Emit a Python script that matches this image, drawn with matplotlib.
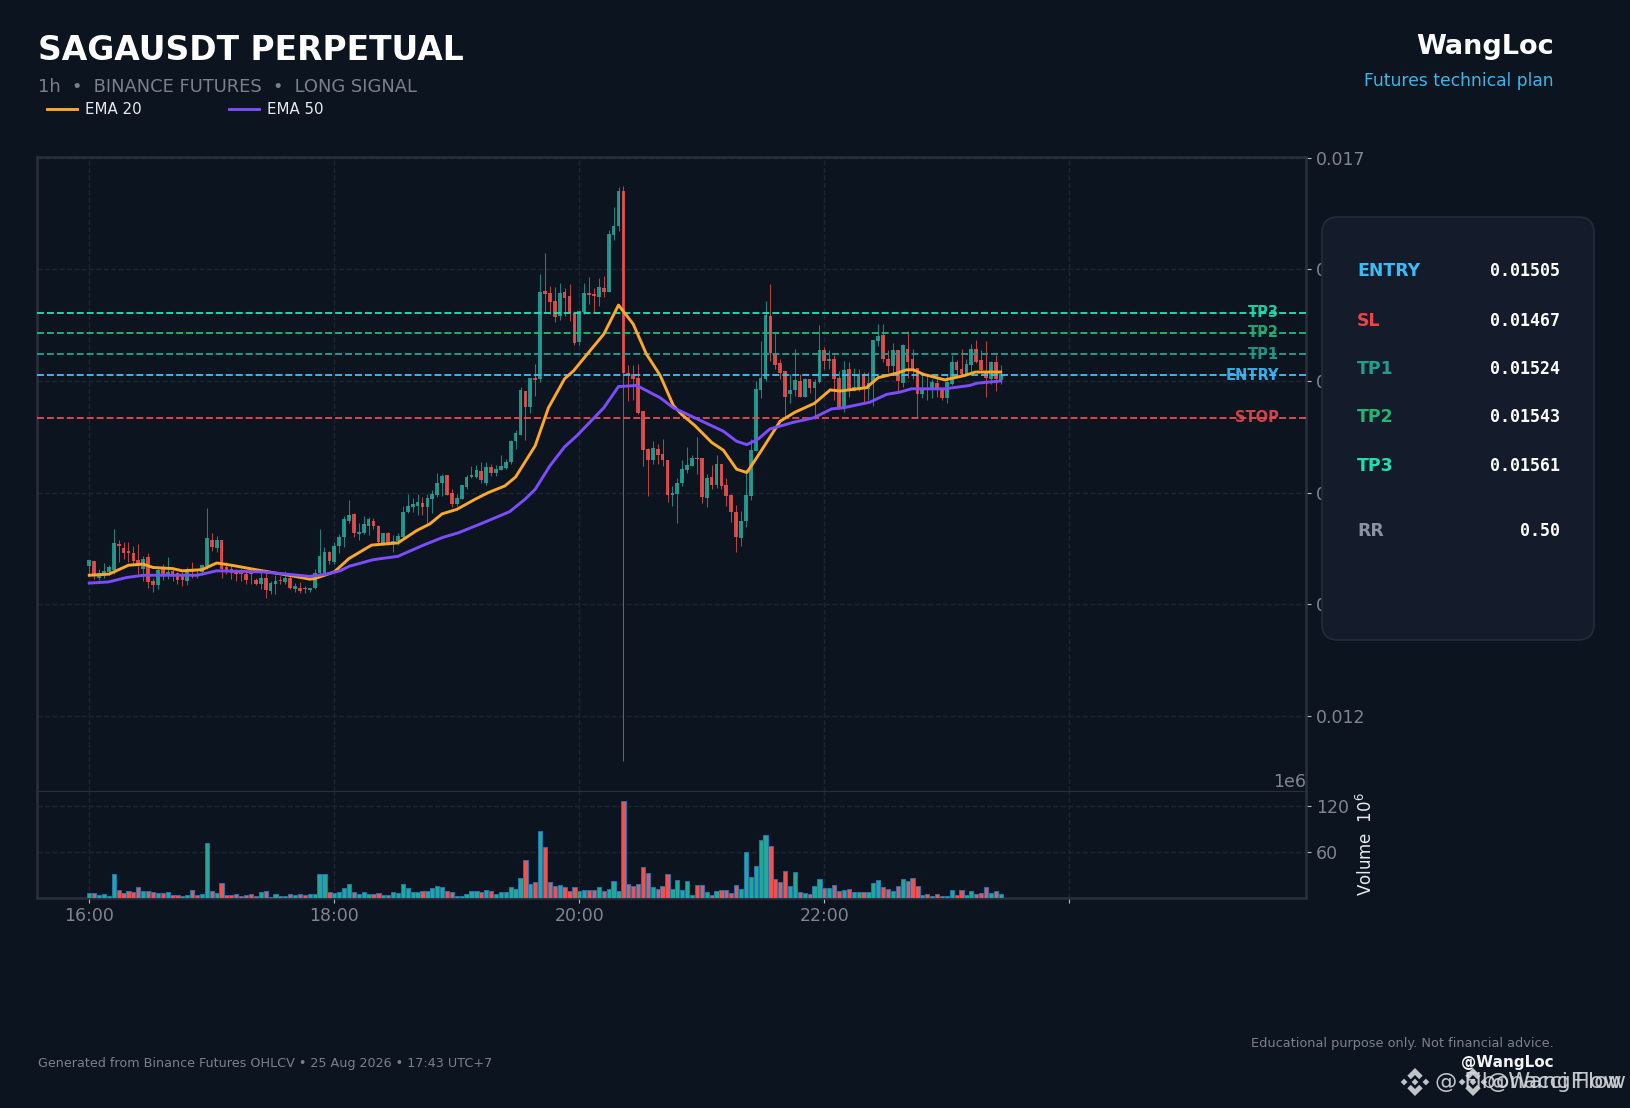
import numpy as np
import matplotlib
matplotlib.use("Agg")
import matplotlib.pyplot as plt
from matplotlib.patches import FancyBboxPatch, Polygon
from matplotlib.ticker import ScalarFormatter, FormatStrFormatter

# ---------- data (prices in 1e-5 USDT, volume in millions) ----------
PRICE_UNIT = 1e-5
direction = ("GRGGGGRRRR" "RGRRGRGRRR" "GRRGGRGRRR" "RRRRRGRGGR" "GRGRRGGGGR"
             "GGGGRGGGRR" "GRGGGGGGRG" "GGGRRGGGGG" "RGRGGGGGGR" "GRGRRRGRRR"
             "GGRRGRGGGR" "RRRRRGRRRG" "GGGGRRGRGR" "RRRGGGGGGR" "RRRGGRGRGG"
             "RGRRGRGGRG" "GGRRGRGRRR" "GRGRRGGRRG" "GRRRGRG")
body_top = [1340,1339,1328,1330,1333,1355,1354,1350,1348,1346,
            1340,1341,1342,1321,1331,1332,1329,1330,1328,1326,
            1329,1331,1332,1335,1359,1358,1358,1358,1333,1332,
            1329,1328,1327,1328,1322,1324,1324,1319,1321,1322,
            1324,1324,1316,1315,1315,1315,1328,1343,1347,1347,
            1352,1360,1376,1380,1381,1365,1372,1376,1375,1370,
            1364,1364,1357,1361,1383,1388,1390,1392,1391,1395,
            1399,1409,1415,1416,1400,1395,1407,1414,1416,1420,
            1419,1423,1423,1421,1424,1427,1446,1453,1492,1491,
            1503,1503,1580,1581,1579,1572,1579,1580,1576,1561,
            1563,1579,1579,1578,1584,1583,1632,1639,1670,1670,
            1507,1506,1503,1473,1439,1440,1439,1435,1429,1400,
            1409,1421,1425,1431,1431,1431,1413,1414,1426,1426,
            1407,1398,1383,1375,1398,1438,1493,1503,1559,1558,
            1525,1516,1509,1492,1501,1500,1502,1502,1499,1528,
            1528,1520,1520,1503,1510,1511,1495,1506,1506,1498,
            1537,1540,1541,1520,1528,1528,1532,1529,1520,1512,
            1492,1493,1499,1498,1492,1499,1517,1517,1511,1515,
            1529,1529,1519,1509,1517,1517,1506]
body_bottom = [1334,1326,1324,1326,1329,1331,1352,1346,1346,1339,
               1335,1332,1320,1317,1317,1327,1327,1327,1322,1322,
               1321,1329,1330,1329,1334,1351,1350,1332,1331,1328,
               1327,1327,1322,1327,1318,1318,1313,1312,1318,1321,
               1320,1315,1314,1312,1314,1313,1315,1328,1328,1339,
               1338,1352,1360,1375,1364,1363,1364,1370,1370,1356,
               1355,1355,1355,1357,1360,1383,1387,1388,1387,1387,
               1394,1398,1409,1398,1390,1390,1394,1405,1414,1414,
               1411,1409,1418,1418,1420,1422,1427,1446,1452,1477,
               1477,1501,1502,1578,1571,1557,1558,1574,1561,1534,
               1535,1562,1577,1576,1575,1580,1580,1631,1639,1507,
               1506,1502,1471,1438,1429,1429,1434,1429,1398,1398,
               1399,1409,1420,1424,1430,1396,1395,1407,1407,1406,
               1397,1383,1360,1359,1375,1397,1437,1492,1502,1525,
               1514,1507,1486,1488,1492,1486,1486,1494,1494,1499,
               1518,1518,1502,1476,1477,1492,1491,1493,1493,1493,
               1498,1536,1520,1513,1513,1500,1498,1517,1511,1488,
               1488,1492,1492,1492,1485,1485,1497,1510,1506,1506,
               1514,1517,1510,1503,1502,1502,1501]
highs = [1340,1339,1332,1337,1335,1367,1358,1356,1356,1352,
         1354,1343,1346,1324,1334,1336,1342,1332,1329,1329,
         1333,1338,1332,1335,1386,1364,1361,1358,1338,1335,
         1332,1332,1331,1332,1324,1329,1329,1321,1326,1325,
         1330,1328,1319,1320,1316,1315,1332,1367,1351,1348,
         1356,1363,1379,1393,1382,1373,1379,1378,1377,1371,
         1364,1365,1362,1364,1388,1399,1395,1399,1396,1399,
         1402,1418,1417,1416,1403,1399,1407,1416,1424,1425,
         1427,1427,1426,1425,1434,1430,1447,1456,1495,1491,
         1503,1515,1596,1615,1585,1584,1588,1583,1587,1563,
         1563,1588,1593,1583,1592,1594,1635,1656,1674,1675,
         1514,1514,1515,1473,1440,1446,1444,1448,1429,1406,
         1413,1429,1441,1434,1450,1431,1417,1425,1434,1426,
         1413,1399,1389,1384,1421,1448,1500,1536,1572,1587,
         1543,1520,1509,1506,1529,1506,1503,1502,1502,1550,
         1530,1528,1523,1509,1518,1517,1512,1511,1508,1508,
         1537,1551,1551,1528,1534,1528,1533,1545,1529,1512,
         1506,1505,1502,1505,1493,1506,1523,1519,1529,1520,
         1533,1537,1528,1536,1518,1523,1514]
lows = [1326,1323,1322,1324,1326,1327,1338,1341,1338,1335,
        1327,1321,1315,1311,1314,1322,1323,1321,1318,1316,
        1317,1324,1324,1326,1332,1348,1347,1324,1327,1323,
        1321,1321,1318,1318,1317,1314,1306,1309,1309,1318,
        1318,1314,1311,1310,1310,1311,1314,1327,1327,1336,
        1336,1346,1351,1373,1360,1358,1363,1362,1367,1355,
        1353,1353,1347,1353,1359,1382,1383,1380,1380,1373,
        1382,1396,1397,1398,1387,1388,1394,1403,1413,1413,
        1409,1407,1415,1415,1420,1421,1426,1439,1452,1447,
        1471,1487,1499,1561,1560,1553,1555,1558,1554,1532,
        1532,1560,1569,1562,1567,1575,1580,1626,1634,1160,
        1482,1483,1470,1424,1397,1426,1426,1424,1392,1388,
        1373,1406,1418,1424,1417,1391,1387,1403,1404,1403,
        1388,1374,1347,1352,1369,1393,1437,1485,1500,1518,
        1511,1502,1467,1480,1487,1486,1486,1489,1466,1498,
        1511,1511,1483,1475,1472,1486,1491,1491,1480,1483,
        1478,1531,1517,1508,1505,1491,1495,1503,1502,1467,
        1485,1483,1485,1486,1483,1480,1496,1506,1505,1505,
        1508,1516,1509,1486,1497,1491,1497]
volume_m = [6.5,6.5,3.9,5.2,2.6,31.3,10.4,6.5,9.1,7.4,
            14.3,9.1,9.1,7.8,6.5,6.5,7.8,3.9,3.9,2.6,
            3.9,10.4,3.9,5.2,71.7,9.1,6.5,19.6,3.9,3.9,
            5.2,2.6,3.9,5.2,2.6,7.8,9.1,1.3,5.2,2.6,
            2.6,5.2,3.9,5.2,3.9,5.2,5.2,31.3,31.3,7.8,
            6.5,7.8,13,18.3,7.8,5.2,7.8,5.2,5.2,6.5,
            3.9,3.9,7.8,6.5,18.3,13,7.8,7.8,9.1,9.1,
            13,15.7,14.3,9.1,7.8,2.6,2.6,5.2,9.1,9.1,
            7.8,10.4,9.1,5.2,7.8,7.8,14.3,11.7,26.1,49.6,
            18.3,20.9,87.4,66.5,20.9,15.7,17,14.3,9.1,14.3,
            9.1,10.4,10.4,10.4,14.3,9.1,11.7,22.2,9.1,126.1,
            18.3,15.7,18.3,40.4,32.6,14.3,11.7,15.7,31.3,11.7,
            23.5,10.4,22.2,3.9,17,17,7.8,3.9,9.1,10.4,
            10.4,6.5,17,11.7,60,27.4,41.7,75.7,82.2,67.8,
            24.8,20.9,35.2,15.7,33.9,7.8,6.5,5.2,15.7,24.8,
            13,13,17,9.1,10.4,11.7,7.8,7.8,7.8,7.8,
            19.6,23.5,14.3,11.7,9.1,15.7,24.8,22.2,26.1,15.7,
            3.9,5.2,2.6,5.2,2.6,2.6,10.4,3.9,10.4,3.9,
            9.1,5.2,6.5,14.3,6.5,9.1,5.2]
ema20_x = [0,4,8,11,13,17,19,23,26,29,34,38,42,45,46,50,51,53,57.6,63,66.8,69.5,72,75,78.7,81.4,84.8,87,91,93.7,97,98.8,101.8,105,108,111,113.7,116.5,119.2,120.9,123.6,127,129.4,132.1,134.2,136.9,141,144,148,151.2,153.2,158.6,161,164.8,166.8,168.2,170.2,174.6,178.7,180.8,186]
ema20 = [1326,1327,1335,1336,1333,1332,1330,1331,1337,1335,1331,1328,1325,1322.5,1323,1329,1333,1341,1353,1355,1366,1372,1381,1385,1394,1400,1406,1414,1442,1476,1502,1509,1525,1542,1568,1551,1524,1505,1478,1470,1460,1445,1438,1421,1418,1436,1464,1472,1480,1492,1491,1494,1503,1507,1510,1510,1506,1501,1505,1508,1508]
ema50_x = [0,3.9,7.6,11,22,26,35.5,45,48.4,51.2,53,58,63,68.2,72.2,75.3,80.4,85.8,88.9,91,94,97,99.5,105,108,111.7,116.5,119.2,122.6,126,129.4,132.1,134.2,136.5,138.9,143.7,147.8,151.5,153.9,159.3,162.7,165.4,167.8,174.6,179.7,181.1,186]
ema50 = [1319,1320,1324,1326,1326,1330,1329,1325,1327,1330,1334,1340,1343,1353,1360,1364,1373,1383,1394,1403,1424,1441,1451,1476,1495,1496,1485,1476,1469,1462,1455,1446,1443,1448,1457,1463,1467,1475,1476,1481,1488,1490,1493,1493,1496,1498,1500]

x_ticks = [0, 50, 100, 150, 200]
x_labels = ["16:00", "18:00", "20:00", "22:00", ""]
price_ticks = [0.012, 0.013, 0.014, 0.015, 0.016, 0.017]
volume_ticks_m = [60, 120]

level_names = ["TP3", "TP2", "TP1", "ENTRY", "STOP"]
level_prices = [0.01561, 0.01543, 0.01524, 0.01505, 0.01467]
level_colors = ["#1de0b0", "#22b573", "#1f9e8f", "#38bdf8", "#e5484d"]

panel_names = ["ENTRY", "SL", "TP1", "TP2", "TP3", "RR"]
panel_values = ["0.01505", "0.01467", "0.01524", "0.01543", "0.01561", "0.50"]
panel_colors = ["#38bdf8", "#ef4444", "#1f9e8f", "#22b573", "#1de0b0", "#8b92a0"]

# ---------- style ----------
W, H = 1631, 1108
BG = "#0c1420"
GRID = "#1d2531"
SPINE = "#2a303b"
TICK = "#7f8591"
UP, DOWN = "#26a69a", "#ef5350"
plt.rcParams["font.family"] = ["DejaVu Sans"]

fig = plt.figure(figsize=(W / 100, H / 100), dpi=100, facecolor=BG)


def rect(l, t, r, b):
    return [l / W, 1 - b / H, (r - l) / W, (b - t) / H]


ax = fig.add_axes(rect(37, 157, 1306, 791), facecolor=BG)
axv = fig.add_axes(rect(37, 791, 1306, 898), facecolor=BG, sharex=ax)

x = np.arange(len(body_top))
ups = np.array([c == "G" for c in direction])
top = np.array(body_top) * PRICE_UNIT
bot = np.array(body_bottom) * PRICE_UNIT
hi = np.array(highs) * PRICE_UNIT
lo = np.array(lows) * PRICE_UNIT
colors = np.where(ups, UP, DOWN)

ax.vlines(x, lo, hi, colors=colors, lw=0.75, alpha=0.75, zorder=3)
ax.bar(x, top - bot, bottom=bot, width=0.75, color=colors, alpha=0.85, lw=0, zorder=3)

for name, price, col in zip(level_names, level_prices, level_colors):
    ax.axhline(price, color=col, ls="--", lw=1.35, zorder=4)
    ax.text(0.9787, price, name, color=col, fontsize=10.5, fontweight="bold", ha="right",
            va="center", transform=ax.get_yaxis_transform(), alpha=0.9, zorder=6)

l20, = ax.plot(ema20_x, np.array(ema20) * PRICE_UNIT, color="#ffa726", lw=2.1, zorder=5, label="EMA 20")
l50, = ax.plot(ema50_x, np.array(ema50) * PRICE_UNIT, color="#7c4dff", lw=2.1, zorder=5, label="EMA 50")

ax.set_ylim(0.011328, 0.017006)
ax.set_xlim(-10.67, 248.3)
ax.set_yticks(price_ticks)
ax.yaxis.set_major_formatter(FormatStrFormatter("%.3f"))
ax.yaxis.tick_right()
ax.tick_params(axis="y", colors=TICK, labelsize=12.5, length=3.5, width=0.8, color="#b8bcc4", pad=3.5)
ax.tick_params(axis="x", which="both", bottom=False, labelbottom=False)
ax.grid(True, color=GRID, ls="--", lw=1, zorder=0)

vol = np.array(volume_m) * 1e6
axv.bar(x, vol, width=0.86, color=colors, edgecolor="#1f77b4", lw=0.7, zorder=3)
axv.set_ylim(0, 139.6e6)
axv.set_yticks([v * 1e6 for v in volume_ticks_m])
fmt = ScalarFormatter(useOffset=False)
fmt.set_powerlimits((6, 6))
axv.yaxis.set_major_formatter(fmt)
axv.yaxis.tick_right()
axv.yaxis.get_offset_text().set_color(TICK)
axv.yaxis.get_offset_text().set_fontsize(12.5)
axv.tick_params(axis="y", colors=TICK, labelsize=12.5, length=3.5, width=0.8, color="#b8bcc4", pad=3.5)
axv.set_xticks(x_ticks)
axv.set_xticklabels(x_labels)
axv.tick_params(axis="x", colors=TICK, labelsize=12.5, length=3.5, width=0.8, color="#b8bcc4", pad=3)
axv.grid(True, color=GRID, ls="--", lw=1, zorder=0)

for a in (ax, axv):
    for s in a.spines.values():
        s.set_color(SPINE)
        s.set_linewidth(1.8)
ax.spines["bottom"].set_linewidth(0.8)
axv.spines["top"].set_linewidth(0.8)

fig.legend(handles=[l20, l50], loc="upper left", bbox_to_anchor=(47 / W, 1 - 102 / H), ncol=2,
           frameon=False, fontsize=10.8, labelcolor="#e8eaee", handlelength=2.0, handletextpad=0.55,
           columnspacing=5.8, borderpad=0, borderaxespad=0)

# ---------- overlay in figure pixels: titles, info panel, footer, watermark ----------
ov = fig.add_axes([0, 0, 1, 1], facecolor="none", zorder=10)
ov.set_xlim(0, W)
ov.set_ylim(H, 0)
ov.axis("off")

ov.text(38, 50, "SAGAUSDT PERPETUAL", color="white", fontsize=23.8, fontweight="bold", va="center")
ov.text(38, 86.5, "1h  \u2022  BINANCE FUTURES  \u2022  LONG SIGNAL", color="#7a808c", fontsize=12.9, va="center")
ov.text(1554, 47.5, "WangLoc", color="white", fontsize=19.5, fontweight="bold", ha="right", va="center")
ov.text(1554, 80.5, "Futures technical plan", color="#38b6e8", fontsize=12.3, ha="right", va="center")

ov.add_patch(FancyBboxPatch((1335, 230), 246, 397, boxstyle="round,pad=13,rounding_size=16",
                            mutation_aspect=1, facecolor="#141b2a", edgecolor="#252c39", lw=1.2))
panel_y = [271.5, 320.5, 368.5, 417.5, 466, 530.5]
for name, val, col, yy in zip(panel_names, panel_values, panel_colors, panel_y):
    ov.text(1357, yy, name, color=col, fontsize=12.4, fontweight="bold", va="center")
    ov.text(1560, yy, val, color="white", fontsize=12, fontweight="bold", family="DejaVu Sans Mono",
            ha="right", va="center")
ov.text(1366, 844, "Volume  $10^6$", color="#e8eaee", fontsize=12, rotation=90, ha="center", va="center")

ov.text(38, 1064, "Generated from Binance Futures OHLCV \u2022 25 Aug 2026 \u2022 17:43 UTC+7",
        color="#7a808c", fontsize=9.15, va="center")
ov.text(1554, 1043, "Educational purpose only. Not financial advice.", color="#7a808c", fontsize=9.25,
        ha="right", va="center")
ov.text(1554, 1063, "@WangLoc", color="#f2f3f5", fontsize=11, fontweight="bold", ha="right", va="center")


def logo(cx, cy, s=14):
    col = "#d5d8dc"
    d = s * 0.24
    for dx, dy in [(0, 0), (-s * 0.78, 0), (s * 0.78, 0)]:
        ov.add_patch(Polygon([(cx + dx - d, cy + dy), (cx + dx, cy + dy - d), (cx + dx + d, cy + dy),
                              (cx + dx, cy + dy + d)], facecolor=col, lw=0, alpha=0.9))
    for sg in (-1, 1):
        ov.add_patch(Polygon([(cx, cy + sg * s), (cx + s * 0.55, cy + sg * s * 0.45),
                              (cx + s * 0.3, cy + sg * s * 0.2), (cx, cy + sg * s * 0.5),
                              (cx - s * 0.3, cy + sg * s * 0.2), (cx - s * 0.55, cy + sg * s * 0.45)],
                             facecolor=col, lw=0, alpha=0.9))


logo(1415, 1082)
logo(1473, 1082)
ov.text(1435, 1082, "@ Fibonacci Flow", color="#d5d8dc", fontsize=16, va="center", alpha=0.9)
ov.text(1622, 1082, "@WangFlow", color="#d5d8dc", fontsize=16, ha="right", va="center", alpha=0.9)

fig.savefig("out.png", dpi=100, facecolor=BG)
